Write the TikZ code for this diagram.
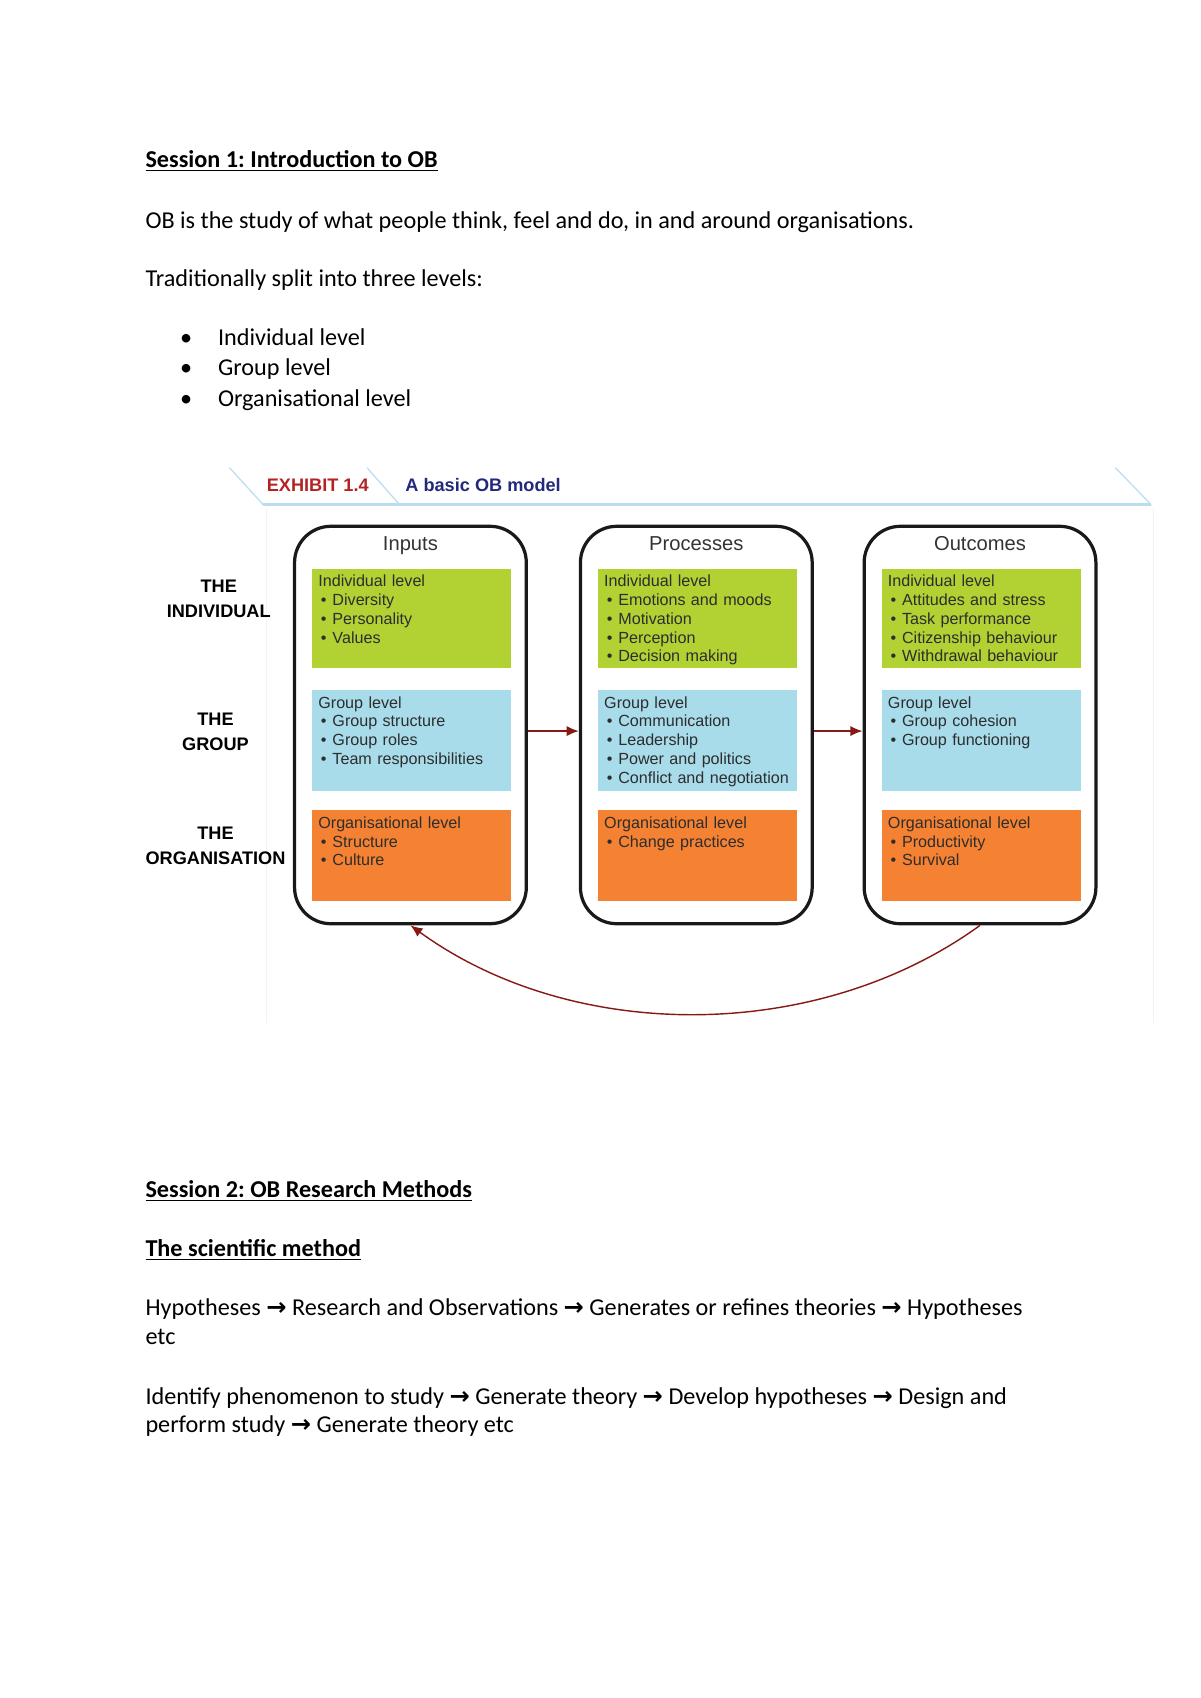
\documentclass[tikz,border=0pt]{standalone}
\usepackage{fontspec}
\setmainfont{Carlito}
\newfontfamily\figfont{Liberation Sans}
\newfontfamily\arrfont{DejaVu Sans}
\usetikzlibrary{arrows.meta,fit}
\setlength{\parindent}{0pt}
\frenchspacing

\definecolor{exred}{RGB}{180,35,35}
\definecolor{exnavy}{RGB}{35,40,125}
\definecolor{exrule}{RGB}{185,220,240}
\definecolor{lvlgreen}{RGB}{178,210,52}
\definecolor{lvlblue}{RGB}{168,220,234}
\definecolor{lvlorange}{RGB}{245,130,50}
\definecolor{flowred}{RGB}{135,25,20}
\definecolor{boxink}{RGB}{45,45,45}

\newcommand{\nxt}{{\arrfont\bfseries\char"2192}}
\newcommand{\itm}{\par\makebox[7pt][l]{\hspace{1.3pt}\textbullet}}

\tikzset{
  body/.style={anchor=base west, inner sep=0pt, font=\fontsize{12}{14.6}\selectfont},
  head/.style={body, font=\fontsize{12}{14.6}\selectfont\bfseries},
  banner/.style={anchor=base west, inner sep=0pt, font=\figfont\bfseries\fontsize{9}{11}\selectfont},
  panel/.style={draw=black!90, line width=1.6pt, rounded corners=18pt, inner sep=0pt},
  panelname/.style={anchor=base, font=\figfont\fontsize{10}{12}\selectfont, text=black!80},
  lvlbox/.style={inner sep=0pt, draw=none},
  lvltext/.style={anchor=north west, inner xsep=3.2pt, inner ysep=3.3pt, text width=97pt,
    align=left, text=boxink, font=\figfont\fontsize{8}{9.3}\selectfont},
  rowlabel/.style={align=center, font=\figfont\bfseries\fontsize{9}{12.3}\selectfont},
  flow/.style={draw=flowred, line width=0.7pt, -{Latex[length=6pt,width=5pt]}},
}

\begin{document}
\begin{tikzpicture}[x=0.5368pt, y=-0.5368pt]
  \useasboundingbox (0,0) rectangle (1109,1568);
  %% session 1
  \node[head] (s1) at (134,155) {\underline{Session 1: Introduction to OB}};
  \node[body] (def) at (134,211) {OB is the study of what people think, feel and do, in and around organisations.};
  \node[body] (split) at (134,265) {Traditionally split into three levels:};
  \foreach \y/\t [count=\i] in {319/Individual level, 347/Group level, 375/Organisational level} {
    \node[body, anchor=base] (dot\i) at (172,\y) {•};
    \node[body] (lvl\i) at (201,\y) {\t};
  }
  %% exhibit banner
  \draw[exrule!30] (246,470) -- (246,945) (1065,470) -- (1065,945);
  \draw[exrule, line width=0.6pt] (212,432) -- (243,466) (339,432) -- (369,466) (1030,432) -- (1063,466);
  \draw[exrule, line width=1.5pt] (243,466) -- (1063,466);
  \node[banner, text=exred] (exno) at (246,454) {EXHIBIT 1.4};
  \node[banner, text=exnavy] (extitle) at (374,454) {A basic OB model};
  %% panels
  \foreach \n/\x/\t in {inputs/272/Inputs, processes/536/Processes, outcomes/798/Outcomes} {
    \node[panel, fit={(\x,486) (\x+214,853)}] (\n) {};
    \node[panelname] (\n-name) at (\x+107,508) {\t};
    \node[lvlbox, fill=lvlgreen, fit={(\x+16,525) (\x+200,617)}] (\n-ind) {};
    \node[lvlbox, fill=lvlblue, fit={(\x+16,637) (\x+200,730)}] (\n-grp) {};
    \node[lvlbox, fill=lvlorange, fit={(\x+16,748) (\x+200,832)}] (\n-org) {};
  }
  %% level contents
  \node[lvltext] (inputs-ind-t) at (inputs-ind.north west) {Individual level\itm Diversity\itm Personality\itm Values};
  \node[lvltext] (inputs-grp-t) at (inputs-grp.north west) {Group level\itm Group structure\itm Group roles\itm Team responsibilities};
  \node[lvltext] (inputs-org-t) at (inputs-org.north west) {Organisational level\itm Structure\itm Culture};
  \node[lvltext] (processes-ind-t) at (processes-ind.north west) {Individual level\itm Emotions and moods\itm Motivation\itm Perception\itm Decision making};
  \node[lvltext] (processes-grp-t) at (processes-grp.north west) {Group level\itm Communication\itm Leadership\itm Power and politics\itm Conflict and negotiation};
  \node[lvltext] (processes-org-t) at (processes-org.north west) {Organisational level\itm Change practices};
  \node[lvltext] (outcomes-ind-t) at (outcomes-ind.north west) {Individual level\itm Attitudes and stress\itm Task performance\itm Citizenship behaviour\itm Withdrawal behaviour};
  \node[lvltext] (outcomes-grp-t) at (outcomes-grp.north west) {Group level\itm Group cohesion\itm Group functioning};
  \node[lvltext] (outcomes-org-t) at (outcomes-org.north west) {Organisational level\itm Productivity\itm Survival};
  %% row labels
  \node[rowlabel] (row-ind) at (202,553) {THE\\INDIVIDUAL};
  \node[rowlabel] (row-grp) at (199,676) {THE\\GROUP};
  \node[rowlabel] (row-org) at (199,781) {THE\\ORGANISATION};
  %% flows
  \draw[flow] ([yshift=-3pt]inputs.east) -- ([yshift=-3pt]processes.west);
  \draw[flow] ([yshift=-3pt]processes.east) -- ([yshift=-3pt]outcomes.west);
  \draw[flow] (outcomes.south) .. controls +(-150,109) and +(150,109) .. (inputs.south);
  %% session 2
  \node[head] (s2) at (134,1106) {\underline{Session 2: OB Research Methods}};
  \node[head] (sci) at (134,1160) {\underline{The scientific method}};
  \node[body] (cyc1a) at (134,1215) {Hypotheses \nxt{} Research and Observations \nxt{} Generates or refines theories \nxt{} Hypotheses};
  \node[body] (cyc1b) at (134,1242) {etc};
  \node[body] (cyc2a) at (134,1297) {Identify phenomenon to study \nxt{} Generate theory \nxt{} Develop hypotheses \nxt{} Design and};
  \node[body] (cyc2b) at (134,1323) {perform study \nxt{} Generate theory etc};
\end{tikzpicture}
\end{document}
